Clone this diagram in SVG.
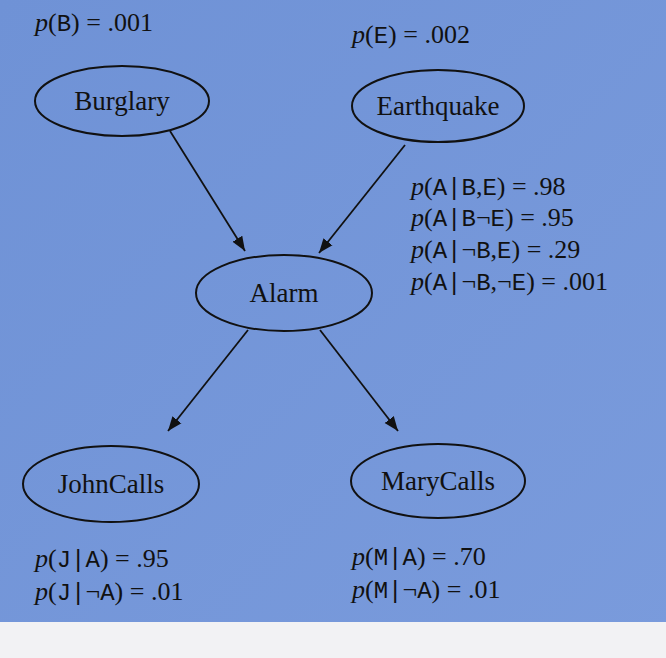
<svg xmlns="http://www.w3.org/2000/svg" width="666" height="658" viewBox="0 0 666 658">
<defs>
<linearGradient id="bg" x1="0" y1="0" x2="1" y2="1"><stop offset="0" stop-color="#6f92d6"/><stop offset="1" stop-color="#7a9bdc"/></linearGradient>
<marker id="ah" viewBox="0 0 10 10" refX="10" refY="5" markerWidth="8" markerHeight="8" orient="auto"><path d="M0,1 L10,5 L0,9 Z" fill="#111"/></marker>
</defs>
<style>
.n{fill:none;stroke:#111;stroke-width:2}
.t{font-family:"Liberation Serif",serif;font-size:26px;fill:#111}
.nl{font-size:27px}
.m{font-family:"Liberation Mono",monospace;font-size:24px}
.i{font-style:italic}
.c line{stroke:#111;stroke-width:1.8;marker-end:url(#ah)}
</style>
<rect width="666" height="658" fill="url(#bg)"/>
<rect x="0" y="622" width="666" height="36" fill="#f2f2f4"/>
<g class="c">
<line x1="170" y1="131" x2="245" y2="251"/>
<line x1="405" y1="145" x2="319" y2="253"/>
<line x1="248" y1="330" x2="168" y2="431"/>
<line x1="320" y1="330" x2="398" y2="431"/>
</g>
<g id="burglary"><ellipse class="n" cx="122" cy="101" rx="87" ry="35"/><text class="t nl" x="122" y="110" text-anchor="middle">Burglary</text></g>
<g id="earthquake"><ellipse class="n" cx="438" cy="106" rx="86" ry="36"/><text class="t nl" x="438" y="115" text-anchor="middle">Earthquake</text></g>
<g id="alarm"><ellipse class="n" cx="284" cy="293" rx="88" ry="38"/><text class="t nl" x="284" y="302" text-anchor="middle">Alarm</text></g>
<g id="johncalls"><ellipse class="n" cx="111" cy="484" rx="88" ry="38"/><text class="t nl" x="111" y="493" text-anchor="middle">JohnCalls</text></g>
<g id="marycalls"><ellipse class="n" cx="438" cy="481" rx="87" ry="37"/><text class="t nl" x="438" y="490" text-anchor="middle">MaryCalls</text></g>
<g id="labels" class="t">
<text x="35" y="31"><tspan class="i">p</tspan>(<tspan class="m">B</tspan>) = .001</text>
<text x="352" y="43"><tspan class="i">p</tspan>(<tspan class="m">E</tspan>) = .002</text>
<text x="411" y="195"><tspan class="i">p</tspan>(<tspan class="m">A|B</tspan>,<tspan class="m">E</tspan>) = .98</text>
<text x="411" y="226"><tspan class="i">p</tspan>(<tspan class="m">A|B</tspan>¬<tspan class="m">E</tspan>) = .95</text>
<text x="411" y="258"><tspan class="i">p</tspan>(<tspan class="m">A|</tspan>¬<tspan class="m">B</tspan>,<tspan class="m">E</tspan>) = .29</text>
<text x="411" y="290"><tspan class="i">p</tspan>(<tspan class="m">A|</tspan>¬<tspan class="m">B</tspan>,¬<tspan class="m">E</tspan>) = .001</text>
<text x="35" y="567"><tspan class="i">p</tspan>(<tspan class="m">J|A</tspan>) = .95</text>
<text x="35" y="600"><tspan class="i">p</tspan>(<tspan class="m">J|</tspan>¬<tspan class="m">A</tspan>) = .01</text>
<text x="352" y="565"><tspan class="i">p</tspan>(<tspan class="m">M|A</tspan>) = .70</text>
<text x="352" y="598"><tspan class="i">p</tspan>(<tspan class="m">M|</tspan>¬<tspan class="m">A</tspan>) = .01</text>
</g>
</svg>
